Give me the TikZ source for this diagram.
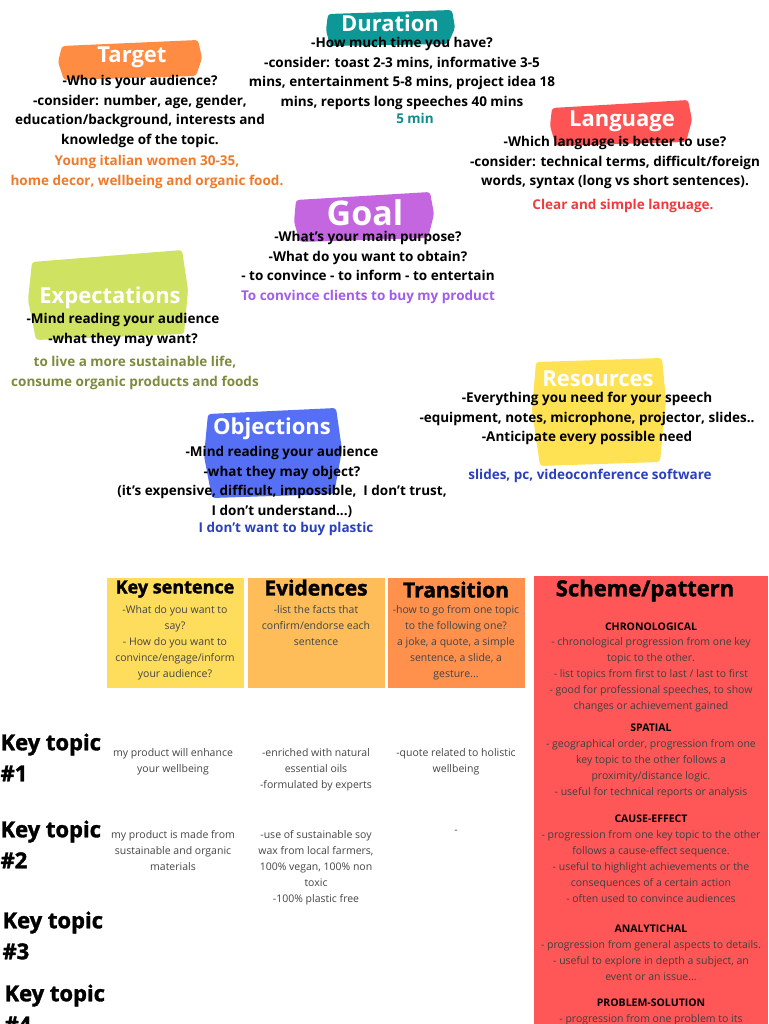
\documentclass[tikz,border=0pt]{standalone}
\usepackage{fontspec}
\setmainfont{Open Sans}
\newfontfamily\heavy[FakeBold=1.6]{Open Sans Bold}[BoldFont={Open Sans Bold}]
\definecolor{cteal}{HTML}{0E9797}
\definecolor{corange}{HTML}{FF8C42}
\definecolor{cred}{HTML}{FF5454}
\definecolor{cpurple}{HTML}{C466E0}
\definecolor{cgreen}{HTML}{CFE262}
\definecolor{cyellow}{HTML}{FFE154}
\definecolor{cblue}{HTML}{5670F5}
\definecolor{tOrange}{HTML}{F07A2A}
\definecolor{tRed}{HTML}{EE3B3B}
\definecolor{tTeal}{HTML}{0E8C8C}
\definecolor{tPurple}{HTML}{A15CF0}
\definecolor{tOlive}{HTML}{7E8A3C}
\definecolor{tBlue}{HTML}{2B3FBF}
\definecolor{kYellow}{HTML}{FFDD5C}
\definecolor{kOrange}{HTML}{FFBD59}
\definecolor{kDeep}{HTML}{FF914D}
\definecolor{kRed}{HTML}{FF5757}
\definecolor{gtext}{HTML}{444444}
\begin{document}
\begin{tikzpicture}[x=1pt,y=-1pt,
  brush/.style={fill=#1,rounded corners=3pt},
  title/.style={font=\bfseries\fontsize{22}{24}\selectfont,text=white,anchor=center},
  body/.style={font=\bfseries\fontsize{13.5}{19.5}\selectfont,align=center,anchor=north},
  ans/.style={font=\bfseries\fontsize{13.5}{19.5}\selectfont,align=center,anchor=north,text=#1},
  head/.style={anchor=north},
  small/.style={font=\fontsize{10.5}{16}\selectfont,align=center,anchor=north,text=gtext},
  topic/.style={font=\heavy\fontsize{22}{31}\selectfont,align=left,anchor=north west},
  sch/.style={font=\bfseries\fontsize{10.5}{16}\selectfont,anchor=north},
  schb/.style={font=\fontsize{10.5}{16}\selectfont,align=center,anchor=north,text=black!75}]
\useasboundingbox (0,0) rectangle (768,1024);
% brush shapes
\path[brush=cteal] (328,14) -- (452,10) -- (455,28) -- (448,44) -- (330,46) -- (326,30) -- cycle;
\path[brush=corange] (62,46) -- (198,40) -- (202,58) -- (196,76) -- (64,80) -- (58,62) -- cycle;
\path[brush=cred] (552,108) -- (688,100) -- (692,120) -- (686,142) -- (556,146) -- (550,126) -- cycle;
\path[brush=cpurple] (296,200) -- (430,192) -- (434,214) -- (428,238) -- (300,242) -- (294,222) -- cycle;
\path[brush=cgreen] (32,262) -- (182,250) -- (188,290) -- (184,334) -- (36,340) -- (28,300) -- cycle;
\path[brush=cyellow] (536,362) -- (662,358) -- (666,400) -- (660,462) -- (540,466) -- (532,410) -- cycle;
\path[brush=cblue] (208,414) -- (336,408) -- (342,450) -- (334,494) -- (212,498) -- (204,456) -- cycle;
% titles
\node[title] (tdur) at (390,23) {Duration};
\node[title] (ttar) at (132,57) {Target};
\node[title] (tlang) at (622,121) {Language};
\node[title,font=\bfseries\fontsize{34}{36}\selectfont] (tgoal) at (365,213) {Goal};
\node[title] (texp) at (110,298) {Expectations};
\node[title] (tres) at (598,379) {Resources};
\node[title] (tobj) at (272,429) {Objections};
% bodies
\node[body] (bdur) at (402,34) {-How much time you have?\\-consider: toast 2-3 mins, informative 3-5\\mins, entertainment 5-8 mins, project idea 18\\mins, reports long speeches 40 mins};
\node[ans=tTeal] (adur) at (415,110) {5 min};
\node[body] (btar) at (140,72) {-Who is your audience?\\-consider: number, age, gender,\\education/background, interests and\\knowledge of the topic.};
\node[ans=tOrange] (atar) at (147,152) {Young italian women 30-35,\\home decor, wellbeing and organic food.};
\node[body] (blang) at (615,133) {-Which language is better to use?\\-consider: technical terms, difficult/foreign\\words, syntax (long vs short sentences).};
\node[ans=tRed] (alang) at (623,196) {Clear and simple language.};
\node[body] (bgoal) at (368,228) {-What's your main purpose?\\-What do you want to obtain?\\- to convince - to inform - to entertain};
\node[ans=tPurple] (agoal) at (368,287) {To convince clients to buy my product};
\node[body] (bexp) at (123,310) {-Mind reading your audience\\-what they may want?};
\node[ans=tOlive] (aexp) at (135,353) {to live a more sustainable life,\\consume organic products and foods};
\node[body] (bres) at (587,389) {-Everything you need for your speech\\-equipment, notes, microphone, projector, slides..\\-Anticipate every possible need};
\node[ans=tBlue] (ares) at (590,466) {slides, pc, videoconference software};
\node[body] (bobj) at (282,443) {-Mind reading your audience\\-what they may object?\\(it's expensive, difficult, impossible,\ \ I don't trust,\\I don't understand...)};
\node[ans=tBlue] (aobj) at (286,519) {I don't want to buy plastic};
% table headers
\fill[kYellow] (107,578) rectangle (244,688);
\fill[kOrange] (248,578) rectangle (385,688);
\fill[kDeep] (388,578) rectangle (525,688);
\fill[kRed] (534,576) rectangle (768,1024);
\node[head,font=\heavy\fontsize{18}{20}\selectfont] (hks) at (175,577) {Key sentence};
\node[head,font=\heavy\fontsize{21}{23}\selectfont] (hev) at (316,576) {Evidences};
\node[head,font=\heavy\fontsize{21}{23}\selectfont] (htr) at (456,578) {Transition};
\node[small] (sks) at (175,602) {-What do you want to\\say?\\- How do you want to\\convince/engage/inform\\your audience?};
\node[small] (sev) at (316,602) {-list the facts that\\confirm/endorse each\\sentence};
\node[small] (str) at (456,602) {-how to go from one topic\\to the following one?\\a joke, a quote, a simple\\sentence, a slide, a\\gesture...};
% key topics
\node[topic] (k1) at (-3,730) {Key topic\\\#1};
\node[topic] (k2) at (-3,817) {Key topic\\\#2};
\node[topic] (k3) at (-1,908) {Key topic\\\#3};
\node[topic] (k4) at (1,981) {Key topic\\\#4};
\node[small] (c11) at (173,745) {my product will enhance\\your wellbeing};
\node[small] (c12) at (316,745) {-enriched with natural\\essential oils\\-formulated by experts};
\node[small] (c13) at (456,745) {-quote related to holistic\\wellbeing};
\node[small] (c21) at (173,827) {my product is made from\\sustainable and organic\\materials};
\node[small] (c22) at (316,827) {-use of sustainable soy\\wax from local farmers,\\100\% vegan, 100\% non\\toxic\\-100\% plastic free};
\node[small] (c23) at (456,827) {-};
% scheme
\node[head,font=\heavy\fontsize{22}{24}\selectfont] (hsc) at (645,576) {Scheme/pattern};
\node[sch] (s1) at (651,619) {CHRONOLOGICAL};
\node[schb] (s1b) at (651,634) {- chronological progression from one key\\topic to the other.\\- list topics from first to last / last to first\\- good for professional speeches, to show\\changes or achievement gained};
\node[sch] (s2) at (651,720) {SPATIAL};
\node[schb] (s2b) at (651,736) {- geographical order, progression from one\\key topic to the other follows a\\proximity/distance logic.\\- useful for technical reports or analysis};
\node[sch] (s3) at (651,811) {CAUSE-EFFECT};
\node[schb] (s3b) at (651,827) {- progression from one key topic to the other\\follows a cause-effect sequence.\\- useful to highlight achievements or the\\consequences of a certain action\\- often used to convince audiences};
\node[sch] (s4) at (651,921) {ANALYTICHAL};
\node[schb] (s4b) at (651,937) {- progression from general aspects to details.\\- useful to explore in depth a subject, an\\event or an issue...};
\node[sch] (s5) at (651,995) {PROBLEM-SOLUTION};
\node[schb] (s5b) at (651,1011) {- progression from one problem to its};
\end{tikzpicture}
\end{document}
